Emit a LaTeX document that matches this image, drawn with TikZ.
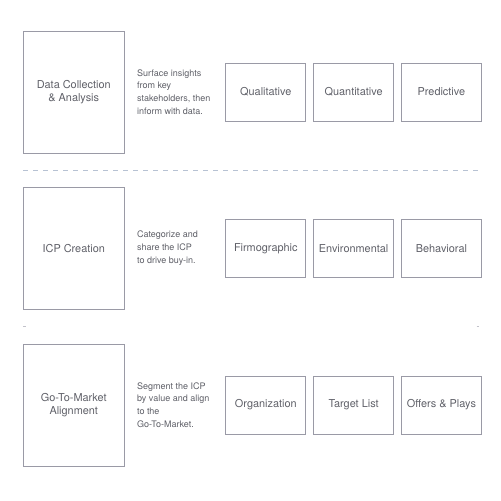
\documentclass[tikz,border=0pt]{standalone}
\usepackage{fontspec}
\setmainfont{TeX Gyre Heros}
\usepackage{tikz}
\usetikzlibrary{positioning}
\definecolor{boxgrey}{HTML}{9A9AA6}
\definecolor{textgrey}{HTML}{5F6068}
\definecolor{dashblue}{HTML}{B7C2D3}

\begin{document}
\begin{tikzpicture}[x=1pt,y=-1pt,node distance=7pt and 7pt]

\tikzset{bignode/.style={draw=boxgrey,line width=0.8pt,minimum width=101.5pt,minimum height=122pt,inner sep=0pt,align=center,font=\fontsize{10.9}{13.5}\selectfont,text=textgrey},
smallnode/.style={draw=boxgrey,line width=0.8pt,minimum width=80pt,minimum height=58pt,inner sep=0pt,align=center,font=\fontsize{10.9}{13.5}\selectfont,text=textgrey},
descnode/.style={inner sep=0pt,align=left,font=\fontsize{9}{12.7}\selectfont,text=textgrey},
sepline/.style={dashblue,line width=0.8pt,dash pattern=on 5pt off 5pt}}

\useasboundingbox (0,0) rectangle (501,501);

% Data collection row
\node[bignode] (dca) at (73.75,92) {Data Collection\\\& Analysis};
\node[descnode,right=12pt of dca] (dcatext) {Surface insights\\from key\\stakeholders, then\\inform with data.};
\node[smallnode,right=100.5pt of dca] (qual) {Qualitative};
\node[smallnode,right=of qual] (quan) {Quantitative};
\node[smallnode,right=of quan] (pred) {Predictive};

% ICP row
\node[bignode] (icp) at (73.75,248.3) {ICP Creation};
\node[descnode,right=12pt of icp] (icptext) {Categorize and\\share the ICP\\to drive buy-in.};
\node[smallnode,right=100.5pt of icp] (firm) {Firmographic};
\node[smallnode,right=of firm] (env) {Environmental};
\node[smallnode,right=of env] (behav) {Behavioral};

% Go-to-market row
\node[bignode] (gtm) at (73.75,405) {Go-To-Market\\Alignment};
\node[descnode,right=12pt of gtm] (gtmtext) {Segment the ICP\\by value and align\\to the\\Go-To-Market.};
\node[smallnode,right=100.5pt of gtm] (org) {Organization};
\node[smallnode,right=of org] (target) {Target List};
\node[smallnode,right=of target] (offers) {Offers \& Plays};

% Separators
\draw[sepline] (23,170) -- (479,170);
\draw[sepline,boxgrey!60] (23,326) -- (26,326) (476.5,326) -- (479,326);

\end{tikzpicture}
\end{document}
